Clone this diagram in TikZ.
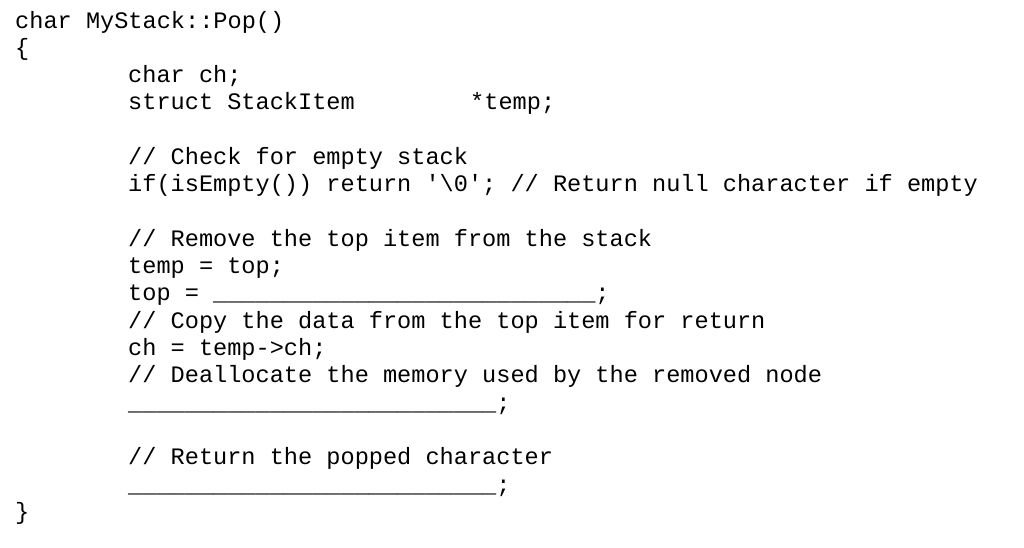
\documentclass[tikz,border=0pt]{standalone}
\usepackage{fontspec}
\setmonofont{Liberation Mono}
\begin{document}
\begin{tikzpicture}[x=1pt,y=1pt,
  code/.style={anchor=base west,inner sep=0pt,font=\ttfamily\fontsize{23.6}{27}\selectfont}]
\useasboundingbox[fill=white] (0,0) rectangle (1024,-547);
\node[code] (l1) at (15,-28) {char MyStack::Pop()};
\node[code] (l2) at (15,-55) {\{};
\node[code] (l3) at (128,-82) {char ch;};
\node[code] (l4) at (128,-109) {struct StackItem};
\node[code] (l4b) at (470,-109) {*temp;};
\node[code] (l5) at (128,-164) {// Check for empty stack};
\node[code] (l6) at (128,-191) {if(isEmpty()) return '\textbackslash0'; // Return null character if empty};
\node[code] (l7) at (128,-246) {// Remove the top item from the stack};
\node[code] (l8) at (128,-273) {temp = top;};
\node[code] (l9) at (128,-300) {top = \_\_\_\_\_\_\_\_\_\_\_\_\_\_\_\_\_\_\_\_\_\_\_\_\_\_\_;};
\node[code] (l10) at (128,-328) {// Copy the data from the top item for return};
\node[code] (l11) at (128,-355) {ch = temp->ch;};
\node[code] (l12) at (128,-382) {// Deallocate the memory used by the removed node};
\node[code] (l13) at (128,-410) {\_\_\_\_\_\_\_\_\_\_\_\_\_\_\_\_\_\_\_\_\_\_\_\_\_\_;};
\node[code] (l14) at (128,-464) {// Return the popped character};
\node[code] (l15) at (128,-492) {\_\_\_\_\_\_\_\_\_\_\_\_\_\_\_\_\_\_\_\_\_\_\_\_\_\_;};
\node[code] (l16) at (15,-519) {\}};
\end{tikzpicture}
\end{document}
